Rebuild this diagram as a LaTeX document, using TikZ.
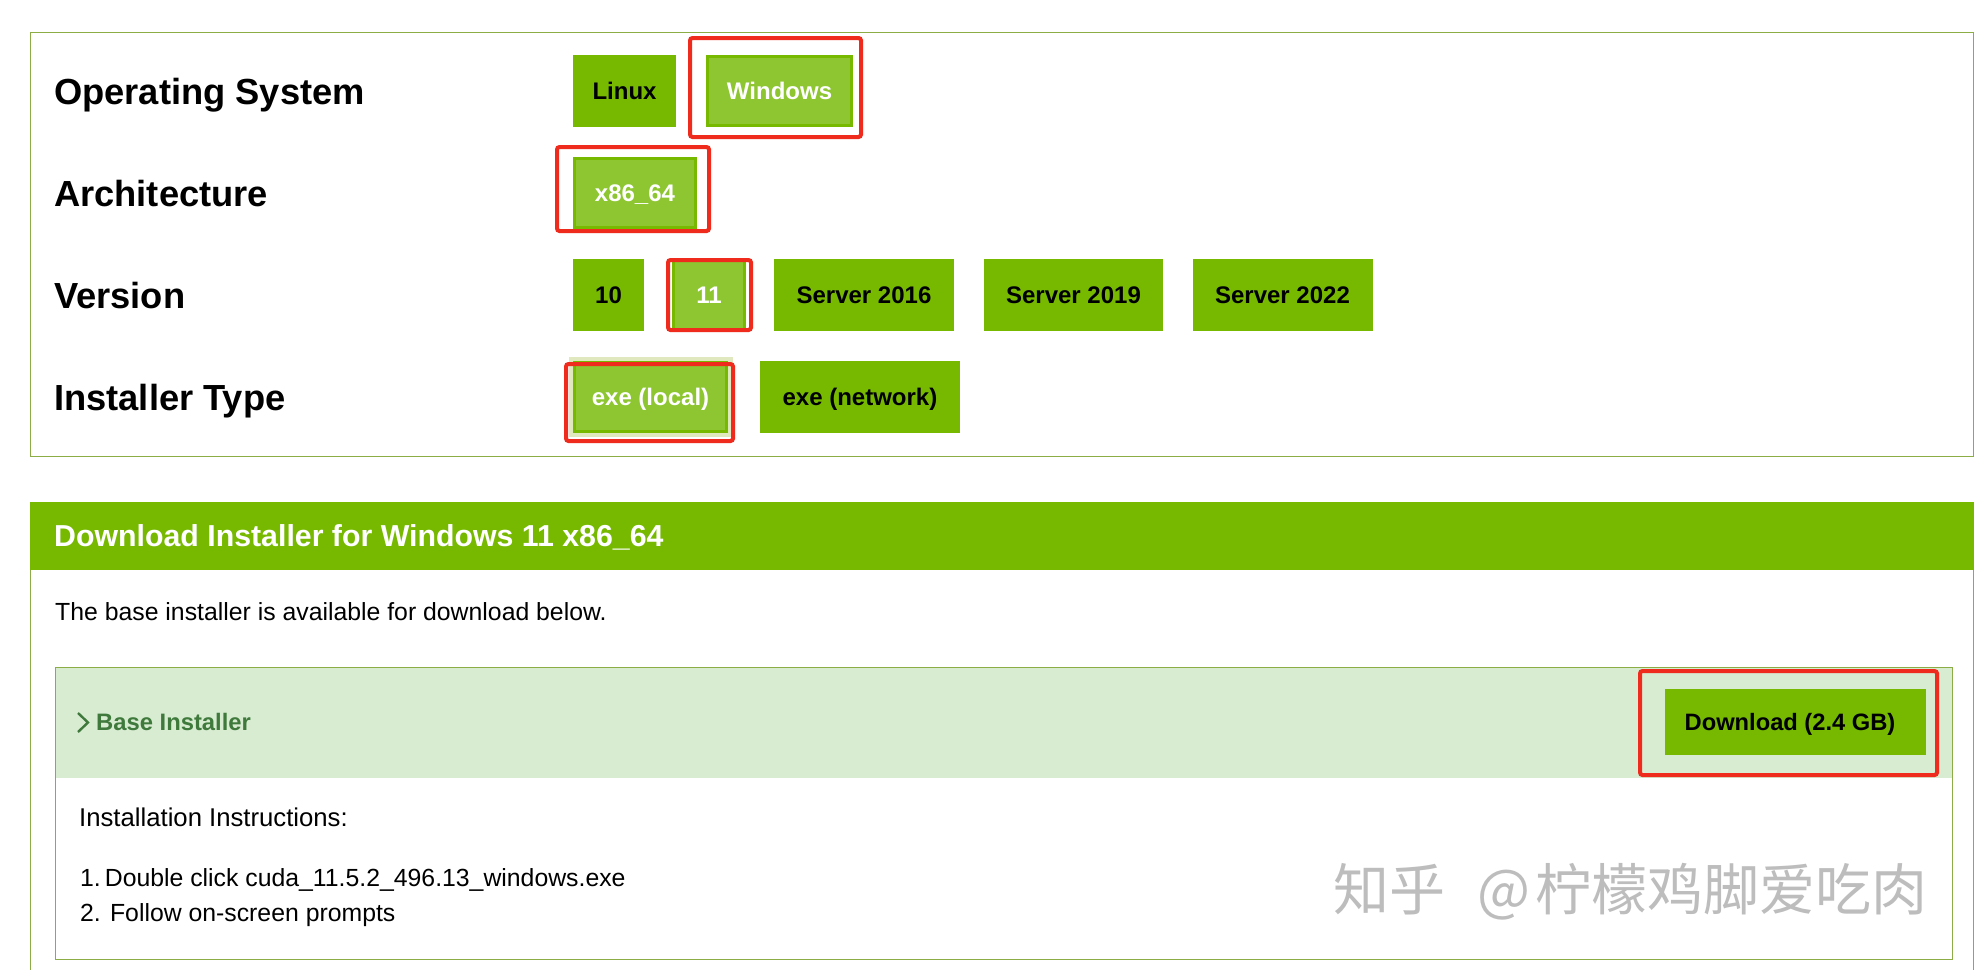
\documentclass[tikz,border=0pt]{standalone}
\usepackage{fontspec}
\setmainfont{Liberation Sans}
\newfontfamily\cjk{Noto Sans CJK SC}
\definecolor{nvgreen}{HTML}{76B900}
\definecolor{nvlight}{HTML}{8DC631}
\definecolor{nvglow}{HTML}{DFE8BE}
\definecolor{nvband}{HTML}{D8ECD2}
\definecolor{nvline}{HTML}{8CAC45}
\definecolor{nvdark}{HTML}{3F7A3C}
\definecolor{markred}{HTML}{EE2B1D}
\definecolor{wmgray}{HTML}{BDBDBD}
\tikzset{
	rowlabel/.style = {anchor = base west, inner sep = 0, font = \fontsize{36.3}{40}\selectfont\bfseries},
	plaintext/.style = {anchor = base west, inner sep = 0, font = \fontsize{24.8}{28}\selectfont},
	btn/.style = {fill = nvgreen, inner sep = 0, minimum height = 72pt, text height = 17pt, text depth = 0pt, font = \fontsize{24}{28}\selectfont\bfseries},
	btnon/.style = {btn, fill = nvlight, draw = nvgreen, line width = 3pt, text = white},
	redbox/.style = {draw = markred, line width = 4pt, rounded corners = 2.5pt},
	panel/.style = {nvline, line width = 0.9pt},
	wmark/.style = {anchor = west, inner sep = 0, font = \cjk\fontsize{56}{60}\selectfont}
}
\begin{document}
\begin{tikzpicture}[x = 1pt, y = -1pt]
	\useasboundingbox (0, 0) rectangle (1978, 970);
	\fill[white] (0, 0) rectangle (1978, 970);
	% selector panel
	\draw[panel] (30, 32) rectangle (1973, 456);
	\node[rowlabel] (os) at (54, 104) {Operating System};
	\node[rowlabel] (arch) at (54, 206) {Architecture};
	\node[rowlabel] (ver) at (54, 308) {Version};
	\node[rowlabel] (type) at (54, 410) {Installer Type};
	\node[btn, minimum width = 103pt] (linux) at (624.5, 91) {Linux};
	\node[btnon, minimum width = 144pt, minimum height = 69pt] (windows) at (779.5, 91) {Windows};
	\node[btnon, minimum width = 121pt, minimum height = 69pt] (x86) at (635, 193) {x86\_64};
	\node[btn, minimum width = 71pt] (ten) at (608.5, 295) {10};
	\node[btnon, minimum width = 71pt, minimum height = 69pt] (eleven) at (709, 295) {11};
	\node[btn, minimum width = 180pt] (srvA) at (864, 295) {Server 2016};
	\node[btn, minimum width = 179pt] (srvB) at (1073.5, 295) {Server 2019};
	\node[btn, minimum width = 180pt] (srvC) at (1282.5, 295) {Server 2022};
	\fill[nvglow] (569, 357) rectangle (733, 437);
	\node[btnon, minimum width = 152pt, minimum height = 69pt] (local) at (650.5, 397) {exe (local)};
	\node[btn, minimum width = 200pt] (network) at (860, 397) {exe (network)};
	% download panel
	\draw[panel] (30, 502) -- (30, 970);
	\draw[panel] (1973, 502) -- (1973, 970);
	\fill[nvgreen] (30, 502) rectangle (1974, 570);
	\node[rowlabel, text = white, font = \fontsize{30.3}{34}\selectfont\bfseries] (head) at (54, 546.5) {Download Installer for Windows 11 x86\_64};
	\node[plaintext] (intro) at (55, 620) {The base installer is available for download below.};
	\fill[nvband] (55, 667) rectangle (1952, 778);
	\draw[panel] (55, 667) rectangle (1952, 959);
	\coordinate (chev) at (78, 713);
	\draw[nvdark, line width = 2.4pt] (chev) -- (88, 722.5) -- (78, 732);
	\node[rowlabel, text = nvdark, font = \fontsize{23.8}{28}\selectfont\bfseries] (base) at (96, 730) {Base Installer};
	\node[btn, minimum width = 261pt, minimum height = 66pt, font = \fontsize{23.7}{28}\selectfont\bfseries] (dl) at (1795.5, 722) {Download (2.4 GB)\hspace*{11pt}};
	\node[plaintext, font = \fontsize{25.7}{28}\selectfont] (howto) at (79, 826.7) {Installation Instructions:};
	\node[plaintext] (stepA) at (80, 886) {1.\hspace{4pt}Double click cuda\_11.5.2\_496.13\_windows.exe};
	\node[plaintext] (stepB) at (80, 921.7) {2. Follow on-screen prompts};
	% watermark
	\node[wmark, text = white] (wmback) at (1335, 894) {知乎\hspace{32pt}@\hspace{5pt}柠檬鸡脚爱吃肉};
	\node[wmark, text = wmgray] (wm) at (1333, 892) {知乎\hspace{32pt}@\hspace{5pt}柠檬鸡脚爱吃肉};
	% red marks
	\draw[redbox] (690, 38) rectangle (861, 137);
	\draw[redbox] (557, 147) rectangle (709, 231);
	\draw[redbox] (668, 260) rectangle (751, 330);
	\draw[redbox] (566, 364) rectangle (733, 441);
	\draw[redbox] (1640, 671) rectangle (1937, 775);
\end{tikzpicture}
\end{document}
